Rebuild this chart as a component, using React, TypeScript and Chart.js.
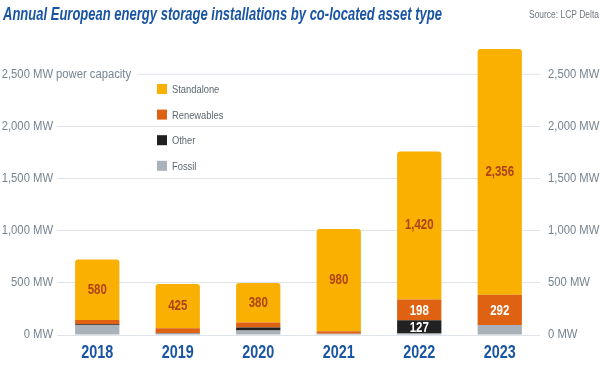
import React, { useEffect, useRef } from "react";
import { Chart, registerables } from "chart.js";
Chart.register(...registerables);

const years = ["2018", "2019", "2020", "2021", "2022", "2023"];
const fossil = [95, 15, 43, 12, 15, 95];
const other = [8, 5, 28, 0, 127, 0];
const renewables = [40, 45, 48, 24, 198, 292];
const standalone = [580, 425, 380, 980, 1420, 2356];
const yTicks = [0, 500, 1000, 1500, 2000, 2500];

const FONT = "'Liberation Sans', Arial, sans-serif";
const C_STAND = "#f9b000";
const C_REN = "#de6212";
const C_OTHER = "#212121";
const C_FOSSIL = "#a9b2b8";
const C_GRID = "#dfe4ea";
const C_TICK = "#76838f";
const C_BLUE = "#1a55a3";
const C_VAL = "#ad4318";

const fmt = (v: number) => v.toLocaleString("en-US");

function drawText(ctx: any, text: string, x: number, y: number, align: string, sx: number, width?: number) {
  ctx.save();
  ctx.textAlign = align;
  ctx.textBaseline = "middle";
  let s = sx;
  if (width) s = width / ctx.measureText(text).width;
  ctx.translate(x, y);
  ctx.scale(s, 1);
  ctx.fillText(text, 0, 0);
  ctx.restore();
}

const extras = {
  id: "extras",
  beforeDatasetsDraw(chart: any) {
    const { ctx, chartArea } = chart;
    const y = chart.scales.y;
    const py = y.getPixelForValue(2500);
    ctx.save();
    ctx.strokeStyle = C_GRID;
    ctx.lineWidth = 1;
    ctx.beginPath();
    ctx.moveTo(138, py);
    ctx.lineTo(chartArea.right, py);
    ctx.stroke();
    ctx.font = `12.5px ${FONT}`;
    ctx.fillStyle = C_TICK;
    drawText(ctx, "power capacity", 56, py, "left", 0.9);
    // y tick labels (both sides)
    y.ticks.forEach((t: any) => {
      const p = y.getPixelForValue(t.value);
      const lab = fmt(t.value) + " MW";
      drawText(ctx, lab, 53, p, "right", 0.9);
      drawText(ctx, lab, 548, p, "left", 0.9);
    });
    ctx.restore();
  },
  afterDatasetsDraw(chart: any) {
    const { ctx, chartArea } = chart;
    ctx.save();
    chart.data.datasets.forEach((ds: any, di: number) => {
      const meta = chart.getDatasetMeta(di);
      meta.data.forEach((bar: any, i: number) => {
        const v = ds.data[i];
        const cy = (bar.y + bar.base) / 2;
        if (ds.label === "Standalone") {
          ctx.font = `bold 14px ${FONT}`;
          ctx.fillStyle = C_VAL;
          drawText(ctx, fmt(v), bar.x, cy, "center", 0.82);
        } else if ((ds.label === "Renewables" || ds.label === "Other") && v > 100) {
          ctx.font = `bold 14px ${FONT}`;
          ctx.fillStyle = "#ffffff";
          drawText(ctx, fmt(v), bar.x, cy + 1, "center", 0.82);
        }
      });
    });
    // x labels
    const x = chart.scales.x;
    ctx.font = `bold 18px ${FONT}`;
    ctx.fillStyle = C_BLUE;
    chart.data.labels.forEach((lab: string, i: number) => {
      drawText(ctx, lab, x.getPixelForTick(i), chartArea.bottom + 18, "center", 0.8);
    });
    // legend
    const order = ["Standalone", "Renewables", "Other", "Fossil"];
    order.forEach((lab, k) => {
      const ds = chart.data.datasets.find((d: any) => d.label === lab);
      const ly = 89 + k * 25.6;
      ctx.fillStyle = ds.backgroundColor;
      ctx.fillRect(157, ly - 5, 10, 10);
      ctx.font = `11px ${FONT}`;
      ctx.fillStyle = "#5d6670";
      drawText(ctx, lab, 172, ly + 1, "left", 0.85);
    });
    // title + source
    ctx.font = `italic bold 18px ${FONT}`;
    ctx.fillStyle = C_BLUE;
    drawText(ctx, "Annual European energy storage installations by co-located asset type", 3, 15, "left", 1, 439);
    ctx.font = `10px ${FONT}`;
    ctx.fillStyle = "#6d747a";
    drawText(ctx, "Source: LCP Delta", 599, 15, "right", 1, 70);
    ctx.restore();
  },
};

export default function App() {
  const ref = useRef<HTMLCanvasElement>(null);
  useEffect(() => {
    document.body.style.margin = "0";
    const setTicks = (s: any) => {
      s.ticks = yTicks.map((v) => ({ value: v }));
    };
    const chart = new Chart(ref.current!, {
      type: "bar",
      data: {
        labels: years,
        datasets: [
          { label: "Fossil", data: fossil, backgroundColor: C_FOSSIL },
          { label: "Other", data: other, backgroundColor: C_OTHER },
          { label: "Renewables", data: renewables, backgroundColor: C_REN },
          {
            label: "Standalone",
            data: standalone,
            backgroundColor: C_STAND,
            borderRadius: { topLeft: 3, topRight: 3, bottomLeft: 0, bottomRight: 0 },
            borderSkipped: false,
          },
        ].map((d: any) => ({ ...d, categoryPercentage: 1, barPercentage: 0.55 })),
      },
      options: {
        animation: false,
        responsive: false,
        maintainAspectRatio: false,
        layout: { padding: { top: 43, left: 0, right: 0, bottom: 0 } },
        plugins: { legend: { display: false }, tooltip: { enabled: false } },
        scales: {
          x: {
            stacked: true,
            grid: { display: false },
            border: { display: false },
            ticks: { display: false },
            afterFit: (s: any) => { s.height = 46; },
          },
          y: {
            stacked: true,
            min: 0,
            max: 2800,
            position: "left",
            border: { display: false },
            grid: {
              drawTicks: false,
              color: (c: any) => (c.tick && c.tick.value === 2500 ? "rgba(0,0,0,0)" : C_GRID),
            },
            ticks: { display: false },
            afterBuildTicks: setTicks,
            afterFit: (s: any) => { s.width = 57; },
          },
          y2: {
            min: 0,
            max: 2800,
            position: "right",
            border: { display: false },
            grid: { display: false, drawTicks: false },
            ticks: { display: false },
            afterBuildTicks: setTicks,
            afterFit: (s: any) => { s.width = 60; },
          },
        },
      } as any,
      plugins: [extras],
    });
    return () => chart.destroy();
  }, []);
  return (
    <div style={{ width: 600, height: 381, background: "#fff" }}>
      <canvas ref={ref} width={600} height={381} style={{ display: "block" }} />
    </div>
  );
}
